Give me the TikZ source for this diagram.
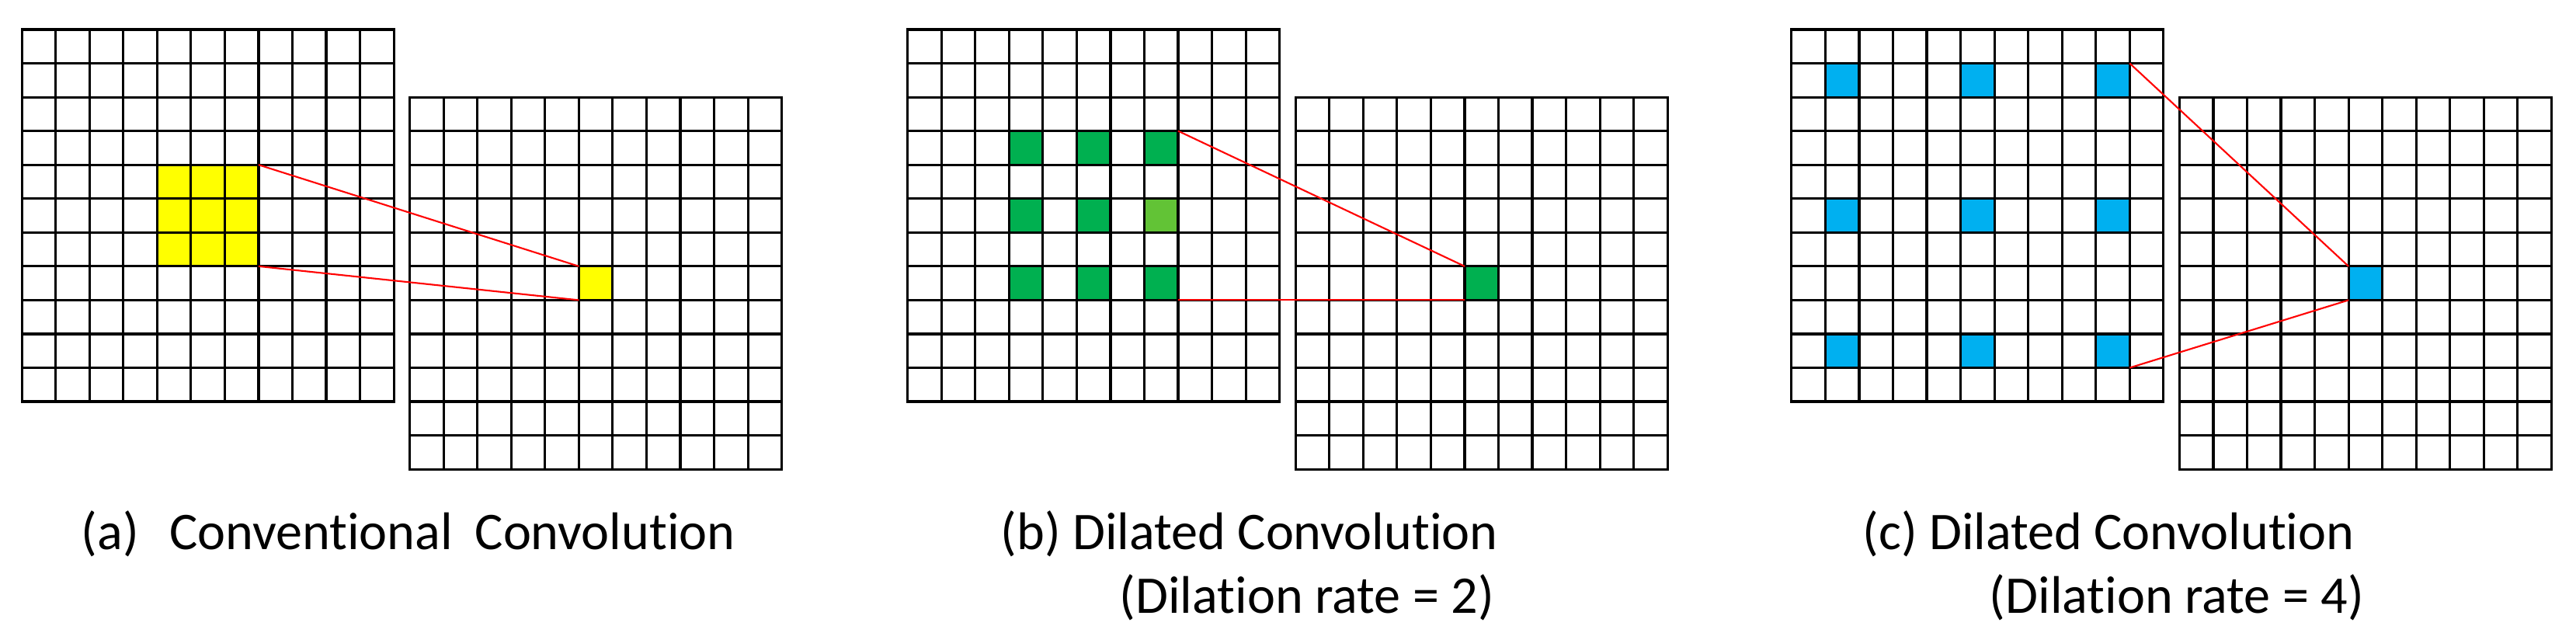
\documentclass[tikz,border=0pt]{standalone}
\usepackage{fontspec}
\setmainfont{Carlito}[Ligatures=NoCommon]
\usetikzlibrary{positioning}

\definecolor{kyellow}{HTML}{FFFF00}
\definecolor{kgreen}{HTML}{00B050}
\definecolor{klgreen}{HTML}{62C336}
\definecolor{kblue}{HTML}{00B0F0}

% one 11x11 feature map, top left corner at the scope origin
\newcommand{\featmap}{%
  \foreach \i in {0,...,11}{%
    \draw[gridline] (\i,0) -- (\i,-11);
    \draw[gridline] (0,-\i) -- (11,-\i);
  }}

\begin{document}
\begin{tikzpicture}[x=0.4355cm,y=0.4355cm,
    gridline/.style={line width=0.9pt,black,line cap=rect},
    link/.style={red,line width=0.6pt},
    cell/.style={inner sep=0pt,outer sep=0pt,minimum size=0.4355cm},
    caption/.style={inner sep=0pt,anchor=base west,font=\fontsize{19.4}{23}\selectfont}]
  \useasboundingbox (0,0) rectangle (76.166,-18.714);

  % (a) conventional
  \begin{scope}[shift={(0.645,-0.873)}]
    \node[cell,fill=kyellow,minimum size=1.3065cm] (kerA) at (5.5,-5.5) {};
    \featmap
    \begin{scope}[shift={(11.47,-2)}]
      \node[cell,fill=kyellow] (outA) at (5.5,-5.5) {};
      \featmap
    \end{scope}
  \end{scope}

  % (b) dilation rate 2
  \begin{scope}[shift={(26.835,-0.873)}]
    \foreach \r/\c/\col in {3/3/kgreen,3/5/kgreen,3/7/kgreen,
                            5/3/kgreen,5/5/kgreen,5/7/klgreen,
                            7/3/kgreen,7/5/kgreen,7/7/kgreen}
      \node[cell,fill=\col] (gB-\r-\c) at (\c+0.5,-\r-0.5) {};
    \featmap
    \begin{scope}[shift={(11.47,-2)}]
      \node[cell,fill=kgreen] (outB) at (5.5,-5.5) {};
      \featmap
    \end{scope}
  \end{scope}

  % (c) dilation rate 4
  \begin{scope}[shift={(52.97,-0.873)}]
    \foreach \r in {1,5,9}
      \foreach \c in {1,5,9}
        \node[cell,fill=kblue] (bC-\r-\c) at (\c+0.5,-\r-0.5) {};
    \featmap
    \begin{scope}[shift={(11.47,-2)}]
      \node[cell,fill=kblue] (outC) at (5.5,-5.5) {};
      \featmap
    \end{scope}
  \end{scope}

  % receptive field lines
  \draw[link] (kerA.north east) -- (outA.north west);
  \draw[link] (kerA.south east) -- (outA.south west);
  \draw[link] (gB-3-7.north east) -- (outB.north west);
  \draw[link] (gB-7-7.south east) -- (outB.south west);
  \draw[link] (bC-1-9.north east) -- (outC.north west);
  \draw[link] (bC-9-9.south east) -- (outC.south west);

  % captions
  \node[caption] (capA) at (2.39,-16.257) {(a)\hspace{0.35em} Conventional\hspace{0.2em} Convolution};
  \node[caption] (capB1) at (29.575,-16.257) {(b) Dilated Convolution};
  \node[caption] (capB2) at (33.09,-18.14) {(Dilation rate = 2)};
  \node[caption] (capC1) at (55.06,-16.257) {(c) Dilated Convolution};
  \node[caption] (capC2) at (58.81,-18.14) {(Dilation rate = 4)};
\end{tikzpicture}
\end{document}
